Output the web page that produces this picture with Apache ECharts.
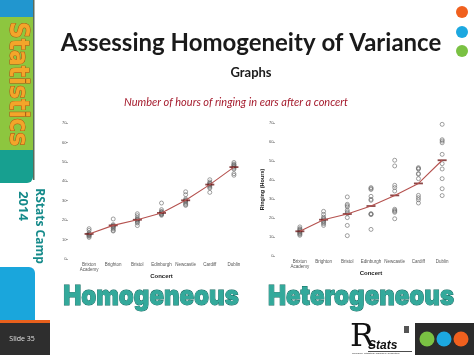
<!DOCTYPE html>
<html><head><meta charset="utf-8">
<script src="https://cdn.jsdelivr.net/npm/echarts@6/dist/echarts.min.js"></script>
<style>html,body{margin:0;padding:0;background:#fff}#c{width:474px;height:355px}</style>
</head><body><div id="c"></div>
<script>
const categories = ['Brixton\nAcademy','Brighton','Bristol','Edinburgh','Newcastle','Cardiff','Dublin'];
const homMeans = [12.9, 17.3, 20.2, 23.7, 30.2, 38.3, 47.3];
const homPoints = [
  [15.6, 14.7, 13.4, 12.8, 12.5, 12.0, 11.7, 11.1, 12.3, 13.0],
  [20.6, 17.7, 17.2, 16.8, 16.5, 16.0, 15.5, 14.7, 14.4, 17.0],
  [23.3, 22.3, 21.1, 20.5, 19.9, 19.5, 18.5, 17.2, 20.2, 19.0],
  [28.8, 25.4, 24.5, 24.0, 23.6, 23.3, 22.9, 22.5, 23.0, 24.2],
  [34.6, 33.1, 30.9, 30.3, 29.8, 29.2, 28.6, 28.0, 30.0, 27.6],
  [40.8, 39.6, 38.8, 38.3, 37.6, 37.0, 36.5, 34.3, 38.0, 39.0],
  [49.7, 48.9, 48.2, 47.7, 47.3, 46.7, 46.2, 43.9, 43.1, 48.5]
];
const hetMeans = [13.0, 19.1, 22.1, 26.3, 31.9, 38.2, 50.4];
const hetPoints = [
  [15.3, 14.4, 13.5, 12.6, 11.8, 10.9, 13.0, 12.2, 14.0, 11.4],
  [23.5, 21.9, 20.5, 19.3, 18.2, 17.0, 16.1, 18.6, 17.6, 19.8],
  [31.1, 27.2, 25.8, 24.0, 22.3, 20.2, 16.1, 10.7, 26.5, 23.1],
  [36.0, 35.0, 31.4, 29.3, 22.3, 21.8, 14.0, 35.5, 29.8, 22.0],
  [50.4, 47.4, 37.2, 36.0, 34.2, 24.6, 23.5, 23.0, 19.6, 24.0],
  [46.5, 45.8, 43.4, 40.7, 31.9, 30.7, 29.6, 27.9, 43.0, 46.0],
  [69.3, 61.2, 59.6, 53.5, 48.6, 45.8, 40.7, 35.4, 31.8, 60.5]
];
const xName = 'Concert';
const yName = 'Ringing (Hours)';

function pairs(groups){ const out=[]; groups.forEach((vals,i)=>vals.forEach(v=>out.push([i,v]))); return out; }

const chart = echarts.init(document.getElementById('c'), null, {renderer:'canvas'});

function xAx(gi){
  return {gridIndex:gi, type:'category', data:categories, boundaryGap:true,
    axisLine:{show:false}, axisTick:{show:false}, splitLine:{show:false},
    axisLabel:{fontSize:4.5, color:'#555', interval:0, margin:3, lineHeight:5, fontFamily:'Liberation Sans'},
    name:xName, nameLocation:'middle', nameGap:14,
    nameTextStyle:{fontSize:6, fontWeight:'bold', color:'#222', fontFamily:'Liberation Sans'}};
}
function yAx(gi, off, withName){
  const a = {gridIndex:gi, type:'value', min:0, max:70, interval:10, offset:off,
    axisLine:{show:false}, axisTick:{show:true, length:2, lineStyle:{color:'#777', width:0.6}},
    splitLine:{show:false},
    axisLabel:{fontSize:4, color:'#555', margin:1.5, fontFamily:'Liberation Sans'}};
  if (withName){
    a.name = yName; a.nameLocation='middle'; a.nameGap=7; a.nameRotate=90;
    a.nameTextStyle={fontSize:5.5, fontWeight:'bold', color:'#222', fontFamily:'Liberation Sans'};
  }
  return a;
}
const ptStyle = {color:'rgba(0,0,0,0)', borderColor:'#6a6a6a', borderWidth:0.8};
function seriesFor(gi, means, pts){
  return [
    {type:'scatter', xAxisIndex:gi, yAxisIndex:gi, data:pairs(pts), symbol:'circle', symbolSize:4, itemStyle:ptStyle, silent:true},
    {type:'line', xAxisIndex:gi, yAxisIndex:gi, data:means, symbol:'none', lineStyle:{color:'#b5524f', width:1.1}, silent:true},
    {type:'scatter', xAxisIndex:gi, yAxisIndex:gi, data:means.map((v,i)=>[i,v]), symbol:'rect', symbolSize:[9,1.8], itemStyle:{color:'#6e1a1a'}, silent:true}
  ];
}

const side = [
  {type:'rect', shape:{x:0,y:0,width:33,height:17}, style:{fill:'#2196cf'}},
  {type:'rect', shape:{x:0,y:17,width:33,height:134}, style:{fill:'#8dc63f'}},
  {type:'rect', shape:{x:0,y:150,width:33,height:33,r:[0,0,6,0]}, style:{fill:'#17a090'}},
  {type:'rect', shape:{x:33,y:0,width:1.5,height:180}, style:{fill:'#5a6a5a'}},
  {type:'text', x:17, y:84, rotation:-Math.PI/2, scaleX:0.87, style:{text:'Statistics', font:'bold 27px "DejaVu Sans"', fill:'#f3a52a', stroke:'#b54a10', lineWidth:1, textAlign:'center', textVerticalAlign:'middle'}},
  {type:'text', x:39, y:226, rotation:-Math.PI/2, style:{text:'RStats Camp', font:'bold 12px "Open Sans"', fill:'#158a8a', textAlign:'center', textVerticalAlign:'middle'}},
  {type:'text', x:23, y:206, rotation:-Math.PI/2, style:{text:'2014', font:'bold 13px "Open Sans"', fill:'#158a8a', textAlign:'center', textVerticalAlign:'middle'}},
  {type:'rect', shape:{x:0,y:267,width:35,height:53,r:[0,6,0,0]}, style:{fill:'#1aa6dc'}},
  {type:'rect', shape:{x:0,y:320,width:50,height:3}, style:{fill:'#e8601c'}},
  {type:'rect', shape:{x:0,y:323,width:50,height:32}, style:{fill:'#2e2e2e'}},
  {type:'text', x:22, y:339, style:{text:'Slide 35', font:'7px "Open Sans"', fill:'#e0e0e0', textAlign:'center', textVerticalAlign:'middle'}}
];
const head = [
  {type:'text', x:251, y:43, style:{text:'Assessing Homogeneity of Variance', font:'bold 24px Lato', fill:'#1a1a1a', textAlign:'center', textVerticalAlign:'middle'}},
  {type:'text', x:251, y:73, style:{text:'Graphs', font:'bold 13px Lato', fill:'#1a1a1a', textAlign:'center', textVerticalAlign:'middle'}},
  {type:'circle', shape:{cx:462,cy:12,r:6}, style:{fill:'#f0601e'}},
  {type:'circle', shape:{cx:462,cy:32,r:6}, style:{fill:'#1ca8e0'}},
  {type:'circle', shape:{cx:462,cy:51,r:6}, style:{fill:'#7ac143'}},
  {type:'text', x:236, y:102, style:{text:'Number of hours of ringing in ears after a concert', font:'italic 11px Lato', fill:'#a51c2e', textAlign:'center', textVerticalAlign:'middle'}}
];
const bigStyle = {font:'900 24px Inter', fill:'#33a99b', stroke:'#13675f', lineWidth:0.8, textAlign:'center', textVerticalAlign:'middle', shadowColor:'rgba(0,0,0,0.3)', shadowBlur:2, shadowOffsetX:1, shadowOffsetY:1};
const bottom = [
  {type:'text', x:151, y:297, scaleY:1.15, style:Object.assign({text:'Homogeneous'}, bigStyle)},
  {type:'text', x:361, y:297, scaleY:1.15, style:Object.assign({text:'Heterogeneous'}, bigStyle)},
  {type:'text', x:350, y:338, style:{text:'R', font:'32px "DejaVu Serif"', fill:'#111', textAlign:'left', textVerticalAlign:'middle'}},
  {type:'text', x:368, y:346, style:{text:'Stats', font:'italic bold 12px "Liberation Sans"', fill:'#111', textAlign:'left', textVerticalAlign:'middle'}},
  {type:'rect', shape:{x:368,y:351,width:44,height:0.8}, style:{fill:'#111'}},
  {type:'text', x:352, y:353.5, style:{text:'Research  Statistical Training & Consulting', font:'2.5px "Liberation Sans"', fill:'#333', textAlign:'left', textVerticalAlign:'middle'}},
  {type:'rect', shape:{x:404,y:326,width:5,height:7}, style:{fill:'#555'}},
  {type:'rect', shape:{x:415,y:323,width:59,height:32}, style:{fill:'#2b2b2b'}},
  {type:'circle', shape:{cx:427,cy:339,r:7.5}, style:{fill:'#7ac143'}},
  {type:'circle', shape:{cx:444,cy:339,r:7.5}, style:{fill:'#1ca8e0'}},
  {type:'circle', shape:{cx:461,cy:339,r:7.5}, style:{fill:'#f0601e'}}
];

chart.setOption({
  animation:false,
  backgroundColor:'#fff',
  grid:[
    {left:77, top:123, width:169, height:136},
    {left:288, top:123, width:166, height:133}
  ],
  xAxis:[xAx(0), xAx(1)],
  yAxis:[yAx(0, 9, false), yAx(1, 13, true)],
  series:[...seriesFor(0, homMeans, homPoints), ...seriesFor(1, hetMeans, hetPoints)],
  graphic:{elements:[...side, ...head, ...bottom]}
});
</script></body></html>
